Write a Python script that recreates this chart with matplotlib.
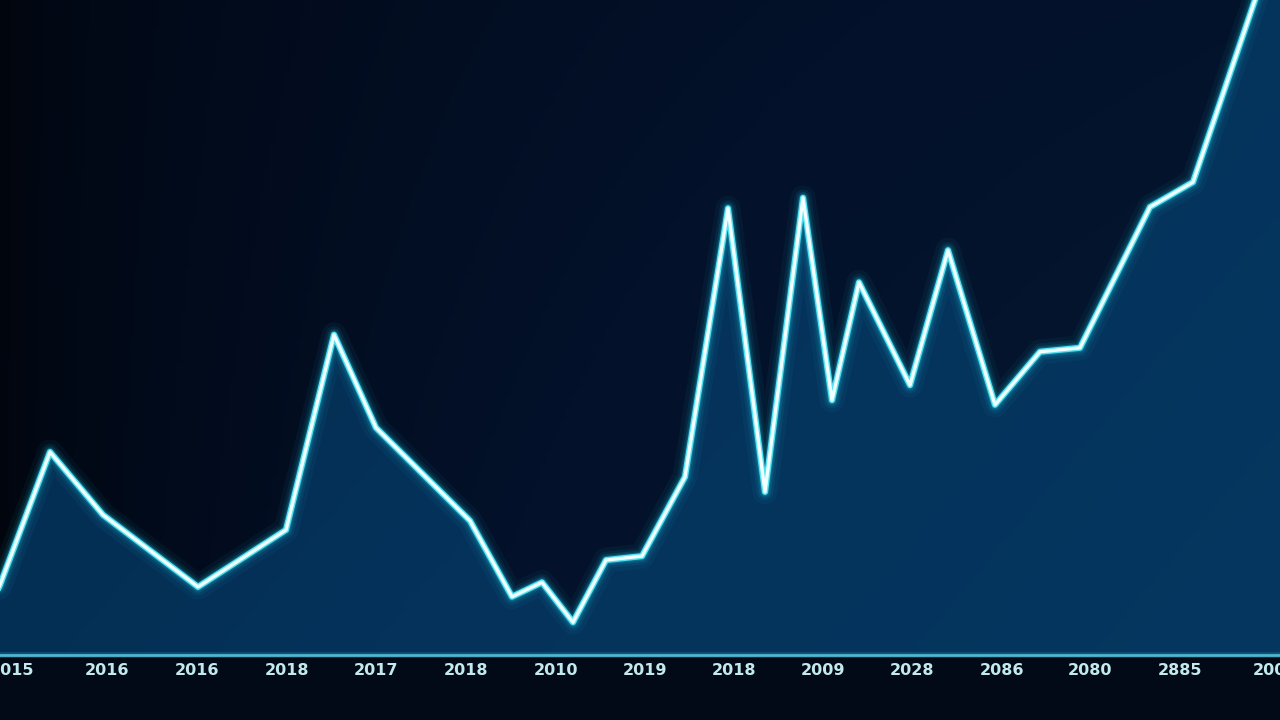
import matplotlib
matplotlib.use('Agg')
import matplotlib.pyplot as plt
import numpy as np
from matplotlib.colors import LinearSegmentedColormap

# data (x in tenths of the width, y as % of the plot height)
x_vals = [-0.5, 0.0, 5.0, 10.3, 19.8, 28.6, 33.4, 37.6, 47.0, 51.2, 54.2, 57.3,
          60.6, 64.2, 68.5, 72.8, 76.5, 80.3, 83.2, 85.9, 91.0, 94.8, 99.5,
          104.0, 108.0, 115.0, 119.3, 125.5, 128.5]
y_vals = [9.0, 10.7, 31.0, 21.4, 10.4, 19.1, 48.9, 34.7, 20.5, 8.9, 11.1, 5.0,
          14.5, 15.1, 27.2, 68.2, 24.9, 69.8, 38.9, 56.9, 41.2, 61.8, 38.2,
          46.3, 46.9, 68.4, 72.2, 100.0, 114.0]

tick_pos = [1.2, 10.7, 19.7, 28.7, 37.6, 46.6, 55.6, 64.5, 73.4, 82.3, 91.2,
            100.2, 109.0, 118.0, 127.5]
tick_labels = ['2015', '2016', '2016', '2018', '2017', '2018', '2010', '2019',
               '2018', '2009', '2028', '2086', '2080', '2885', '2000']

Y_BOTTOM = -9.92
Y_TOP = 100.0

fig = plt.figure(figsize=(12.8, 7.2), dpi=100)
ax = fig.add_axes([0, 0, 1, 1])
ax.set_xlim(0, 128)
ax.set_ylim(Y_BOTTOM, Y_TOP)
ax.axis('off')

# background gradient, dark navy getting a little lighter to the right
gx, gy = np.meshgrid(np.linspace(0, 1, 256), np.linspace(0, 1, 256))
bg = 0.6 * np.sqrt(gx) + 0.4 * gy * gx
bg_cmap = LinearSegmentedColormap.from_list('bg', ['#01050d', '#03112a', '#041a31'])
ax.imshow(bg, extent=[0, 128, Y_BOTTOM, Y_TOP], origin='upper', cmap=bg_cmap,
          aspect='auto', zorder=0, vmin=0, vmax=1)

# area under the line, gradient clipped to the polygon
fill = ax.fill_between(x_vals, 0, y_vals, color='none', zorder=1)
fx, fy = np.meshgrid(np.linspace(0, 1, 256), np.linspace(0, 1, 256))
fg = 0.7 * fx + 0.3 * fy
fill_cmap = LinearSegmentedColormap.from_list('fill', ['#052c4e', '#04325a', '#053760'])
im = ax.imshow(fg, extent=[0, 128, 0, Y_TOP], origin='upper', cmap=fill_cmap,
               aspect='auto', zorder=1, vmin=0, vmax=1)
im.set_clip_path(fill.get_paths()[0], transform=ax.transData)

# strip below the baseline
ax.axhspan(Y_BOTTOM, 0, color='#020a17', zorder=2)
ax.axhline(0, color='#1c6f90', lw=4, zorder=3, alpha=0.5)
ax.axhline(0, color='#4fb6cf', lw=2.0, zorder=3)

# glowing line
for lw, a in [(18, 0.05), (12, 0.08), (8.5, 0.13), (6, 0.25)]:
    ax.plot(x_vals, y_vals, color='#1ccbe6', lw=lw, alpha=a, zorder=4,
            solid_joinstyle='round', solid_capstyle='round')
ax.plot(x_vals, y_vals, color='#55e2f2', lw=4.4, zorder=5, solid_joinstyle='round')
ax.plot(x_vals, y_vals, color='#f0ffff', lw=2.4, zorder=6, solid_joinstyle='round')

for pos, lab in zip(tick_pos, tick_labels):
    ax.text(pos, -2.3, lab, ha='center', va='center', color='#c2eaee',
            fontsize=11.5, fontweight='bold', family='DejaVu Sans', zorder=7)

fig.savefig('out.png', dpi=100)
